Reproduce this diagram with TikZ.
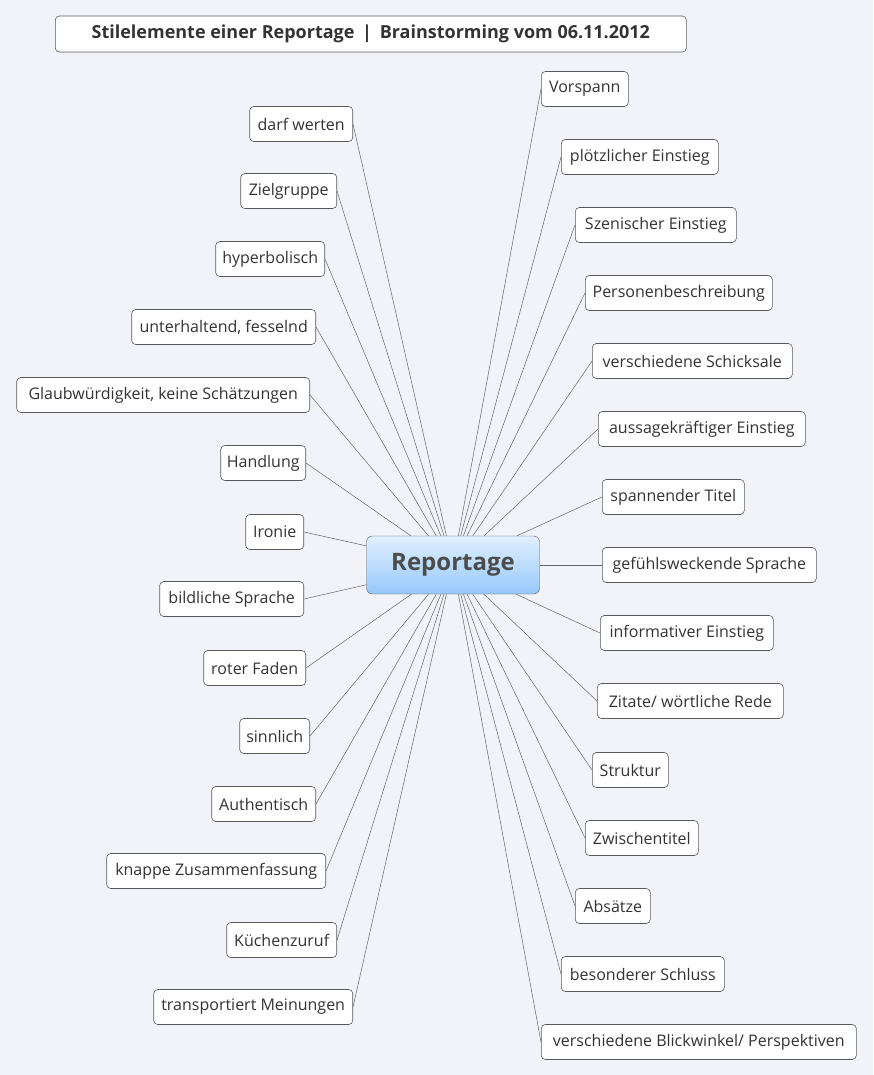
\documentclass[tikz,border=0pt]{standalone}
\usepackage{fontspec}
\setmainfont{Open Sans}
\begin{document}
\begin{tikzpicture}[x=1pt,y=-1pt,
  leaf/.style={draw=gray!70!black,fill=white,rounded corners=4pt,minimum height=35pt,inner xsep=6pt,font=\fontsize{16}{19}\selectfont,text=black!80,line width=0.6pt},
  conn/.style={draw=gray!80!black,line width=0.5pt}]
\fill[fill={rgb,255:red,242;green,243;blue,248}] (0,0) rectangle (873,1075);
\useasboundingbox (0,0) rectangle (873,1075);
\node[leaf,anchor=west,minimum width=631pt,minimum height=36pt,font=\fontsize{18}{21}\selectfont\bfseries] (title) at (55,34) {Stilelemente einer Reportage \,|\, Brainstorming vom 06.11.2012};
\node[draw=gray!70!black,rounded corners=6pt,minimum width=173pt,minimum height=58pt,top color={rgb,255:red,225;green,240;blue,255},bottom color={rgb,255:red,150;green,200;blue,250},font=\fontsize{24}{27}\selectfont\bfseries,text=black!70] (R) at (453,565) {Reportage};
\foreach \t/\x/\y/\w [count=\i] in {
 {darf werten}/353/124/103, {Zielgruppe}/337/191/96, {hyperbolisch}/325/259/109,
 {unterhaltend, fesselnd}/316/327/184, {Glaubwürdigkeit, keine Schätzungen}/310/395/293,
 {Handlung}/306/463/85, {Ironie}/304/532/58, {bildliche Sprache}/304/599/144,
 {roter Faden}/306/668/102, {sinnlich}/310/736/70, {Authentisch}/316/804/104,
 {knappe Zusammenfassung}/326/871/219, {Küchenzuruf}/337/940/110,
 {transportiert Meinungen}/353/1007/199}{
  \node[leaf,anchor=east,minimum width=\w pt] (L\i) at (\x,\y) {\t};
  \draw[conn] (L\i.east) -- (R);
}
\foreach \t/\x/\y/\w [count=\i] in {
 {Vorspann}/541/89/87, {plötzlicher Einstieg}/561/157/157, {Szenischer Einstieg}/575/225/161,
 {Personenbeschreibung}/585/293/187, {verschiedene Schicksale}/592/361/200,
 {aussagekräftiger Einstieg}/598/429/207, {spannender Titel}/602/497/142,
 {gefühlsweckende Sprache}/602/565/214, {informativer Einstieg}/600/633/173,
 {Zitate/ wörtliche Rede}/597/701/186, {Struktur}/592/770/76, {Zwischentitel}/585/838/113,
 {Absätze}/575/906/75, {besonderer Schluss}/561/974/163,
 {verschiedene Blickwinkel/ Perspektiven}/541/1042/315}{
  \node[leaf,anchor=west,minimum width=\w pt] (Q\i) at (\x,\y) {\t};
  \draw[conn] (Q\i.west) -- (R);
}
\end{tikzpicture}
\end{document}
